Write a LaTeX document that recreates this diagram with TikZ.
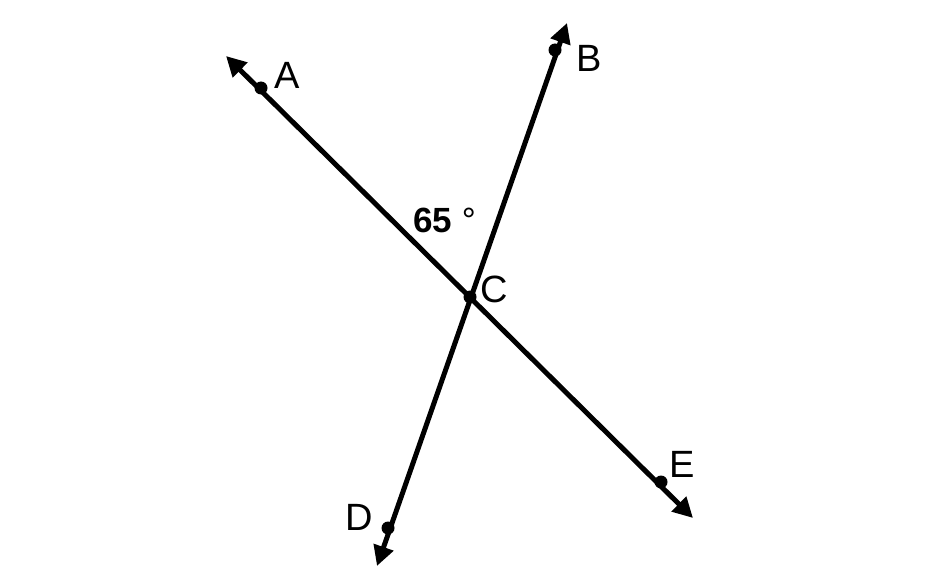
\documentclass[tikz,border=0pt]{standalone}
\usepackage{fontspec}
\setmainfont{Liberation Sans}
\usetikzlibrary{arrows.meta}
\begin{document}
\begin{tikzpicture}[x=1pt,y=-1pt,
  ln/.style={line width=5pt,{Triangle[length=20pt,width=20pt]}-{Triangle[length=20pt,width=20pt]}},
  dot/.style={circle,fill=black,inner sep=0pt,minimum size=13pt},
  lbl/.style={font=\fontsize{38}{42}\selectfont,inner sep=0pt}]
\useasboundingbox (0,0) rectangle (940,583);
\coordinate (tA) at (226,56);
\coordinate (tE) at (693,518);
\coordinate (tB) at (567,23);
\coordinate (tD) at (377,566);
\draw[ln] (tA) -- (tE);
\draw[ln] (tD) -- (tB);
\node[dot] (A) at (261,88) {};
\node[dot] (B) at (555,50) {};
\node[dot] (C) at (470,297) {};
\node[dot] (D) at (388,528) {};
\node[dot] (E) at (661,482) {};
\node[lbl] (lA) at (287,75) {A};
\node[lbl] (lB) at (589,58) {B};
\node[lbl] (lC) at (494,289) {C};
\node[lbl] (lD) at (359,517) {D};
\node[lbl] (lE) at (682,464) {E};
\node[font=\fontsize{35}{40}\selectfont,inner sep=0pt,anchor=base west] (ang) at (413,232) {\textbf{65} °};
\end{tikzpicture}
\end{document}
